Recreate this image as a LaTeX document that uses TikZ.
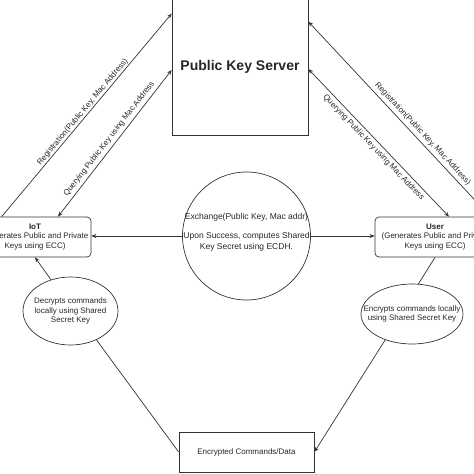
\documentclass[tikz,border=0pt]{standalone}
\usepackage{fontspec}
\setmainfont{Liberation Sans}
\usetikzlibrary{arrows.meta,shapes.geometric}
\newcommand\ctrline[1]{\makebox[0pt]{#1}}
\begin{document}
\begin{tikzpicture}[x=1pt,y=-1pt,
  ln/.style={draw=black!80, line width=0.7pt},
  arr/.style={-{Stealth[length=5pt,width=4pt]}},
  rarr/.style={{Stealth[length=5pt,width=4pt]}-},
  barr/.style={{Stealth[length=5pt,width=4pt]}-{Stealth[length=5pt,width=4pt]}},
  txt/.style={font=\fontsize{8}{9.8}\selectfont, text=black!85},
  box/.style={ln, rectangle, inner sep=0pt, align=center, txt},
  oval/.style={ln, ellipse, inner sep=0pt, align=center, txt},
  lbl/.style={txt, inner sep=1pt}]
\useasboundingbox (0,0) rectangle (474,474);
\node[box, minimum width=136pt, minimum height=137pt, font=\fontsize{14}{16}\selectfont\bfseries] (server) at (240,66.5) {Public Key Server};
\node[box, rounded corners=4pt, minimum width=112pt, minimum height=40pt] (iot) at (35,237) {\textbf{IoT}\\(Generates Public and Private\\Keys using ECC)};
\node[box, rounded corners=4pt, minimum width=120pt, minimum height=40pt] (user) at (435,237) {\textbf{User}\\(Generates Public and Private\\Keys using ECC)};
\node[ln, circle, minimum size=128pt, inner sep=0pt, align=center, font=\fontsize{8.5}{11}\selectfont, text=black!85] (circ) at (246.5,236) {\ctrline{Exchange(Public Key, Mac addr)}\\[8pt]\ctrline{Upon Success, computes Shared}\\\ctrline{Key Secret using ECDH.}\\[-1pt]\mbox{}};
\node[oval, minimum width=95pt, minimum height=68pt] (dec) at (70.5,311) {\ctrline{Decrypts commands}\\\ctrline{locally using Shared}\\\ctrline{Secret Key}};
\node[oval, minimum width=102pt, minimum height=60pt] (encr) at (412,314) {\ctrline{Encrypts commands locally}\\\ctrline{using Shared Secret Key}};
\node[box, minimum width=135pt, minimum height=40pt] (enc) at (246.5,452) {Encrypted Commands/Data};
\draw[ln, arr] ([xshift=23pt]iot.north west) -- node[lbl, sloped, above=0pt] {Registration(Public Key, Mac Address)} ([yshift=-16pt]server.north west);
\draw[ln, barr] ([xshift=23pt]iot.north) -- node[lbl, sloped, above=2pt] {Querying Public Key using Mac Address} ([yshift=-3.5pt]server.west);
\draw[ln, rarr] ([yshift=-24pt]server.north east) -- node[lbl, sloped, above=2pt, pos=0.6] {Registration(Public Key, Mac Address)} ([xshift=-5pt]user.north east);
\draw[ln, barr] ([yshift=-2.5pt]server.east) -- node[lbl, sloped, below=2pt] {Querying Public Key using Mac Address} ([xshift=14pt]user.north);
\draw[ln, arr] (circ.west) -- (iot.east |- circ.west);
\draw[ln, arr] (circ.east) -- (user.west |- circ.east);
\draw[ln, arr] (dec.122) -- (iot.south);
\draw[ln] (dec.-48) -- (enc.west);
\draw[ln] (user.south) -- (encr.78);
\draw[ln, arr] (encr.224) -- (enc.east);
\end{tikzpicture}
\end{document}
